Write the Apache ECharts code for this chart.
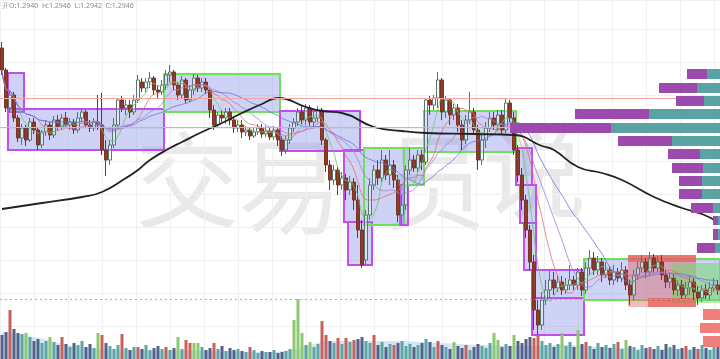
<!DOCTYPE html>
<html><head><meta charset="utf-8">
<script src="https://cdn.jsdelivr.net/npm/echarts@6/dist/echarts.min.js"></script>
<style>html,body{margin:0;padding:0;background:#fff}#c{width:720px;height:359px}</style>
</head><body><div id="c"></div>
<script>
// ---------- data ----------
const opens = [
1.3192,1.3170,1.3132,1.3145,1.3122,1.3102,1.3112,1.3100,1.3118,1.3110,
1.3095,1.3108,1.3115,1.3105,1.3120,1.3113,1.3122,1.3115,1.3118,1.3110,
1.3122,1.3128,1.3115,1.3112,1.3118,1.3115,1.3090,1.3080,1.3095,1.3115,
1.3140,1.3132,1.3135,1.3128,1.3140,1.3158,1.3152,1.3158,1.3162,1.3150,
1.3148,1.3155,1.3165,1.3168,1.3155,1.3145,1.3160,1.3140,1.3150,1.3162,
1.3152,1.3158,1.3150,1.3130,1.3115,1.3125,1.3122,1.3128,1.3120,1.3112,
1.3115,1.3108,1.3110,1.3104,1.3108,1.3112,1.3106,1.3109,1.3103,1.3110,
1.3100,1.3090,1.3100,1.3112,1.3118,1.3128,1.3120,1.3132,1.3118,1.3122,
1.3130,1.3100,1.3075,1.3060,1.3070,1.3055,1.3062,1.3050,1.3058,1.3040,
1.3010,1.2980,1.3025,1.3055,1.3070,1.3062,1.3080,1.3065,1.3075,1.3060,
1.3025,1.3035,1.3070,1.3080,1.3072,1.3085,1.3078,1.3140,1.3135,1.3142,
1.3160,1.3128,1.3140,1.3125,1.3132,1.3115,1.3100,1.3120,1.3128,1.3110,
1.3080,1.3100,1.3112,1.3122,1.3115,1.3125,1.3110,1.3137,1.3122,1.3090,
1.3065,1.3040,1.3010,1.2978,1.2930,1.2915,1.2940,1.2950,1.2960,1.2952,
1.2958,1.2950,1.2955,1.2960,1.2955,1.2968,1.2950,1.2972,1.2982,1.2970,
1.2978,1.2965,1.2970,1.2960,1.2968,1.2962,1.2970,1.2955,1.2945,1.2965,
1.2972,1.2978,1.2968,1.2982,1.2972,1.2978,1.2965,1.2958,1.2962,1.2950,
1.2955,1.2945,1.2952,1.2958,1.2948,1.2942,1.2950,1.2945,1.2952,1.2955];
const closes = [
1.3170,1.3132,1.3145,1.3122,1.3102,1.3112,1.3100,1.3118,1.3110,1.3095,
1.3108,1.3115,1.3105,1.3120,1.3113,1.3122,1.3115,1.3118,1.3110,1.3122,
1.3128,1.3115,1.3112,1.3118,1.3115,1.3090,1.3080,1.3095,1.3115,1.3140,
1.3132,1.3135,1.3128,1.3140,1.3160,1.3152,1.3158,1.3162,1.3150,1.3148,
1.3155,1.3165,1.3168,1.3155,1.3145,1.3160,1.3140,1.3150,1.3162,1.3152,
1.3158,1.3150,1.3130,1.3115,1.3125,1.3122,1.3128,1.3120,1.3112,1.3115,
1.3108,1.3110,1.3104,1.3108,1.3112,1.3106,1.3109,1.3103,1.3110,1.3100,
1.3090,1.3100,1.3112,1.3118,1.3128,1.3120,1.3132,1.3118,1.3122,1.3130,
1.3100,1.3075,1.3060,1.3070,1.3055,1.3062,1.3050,1.3058,1.3040,1.3010,
1.2975,1.3025,1.3055,1.3070,1.3062,1.3080,1.3065,1.3075,1.3060,1.3025,
1.3035,1.3070,1.3080,1.3072,1.3085,1.3078,1.3140,1.3135,1.3142,1.3160,
1.3128,1.3140,1.3125,1.3132,1.3115,1.3100,1.3120,1.3128,1.3110,1.3080,
1.3100,1.3112,1.3122,1.3115,1.3125,1.3110,1.3137,1.3122,1.3090,1.3065,
1.3040,1.3010,1.2978,1.2930,1.2915,1.2940,1.2950,1.2960,1.2952,1.2958,
1.2950,1.2955,1.2960,1.2955,1.2968,1.2950,1.2972,1.2982,1.2970,1.2978,
1.2965,1.2970,1.2960,1.2968,1.2962,1.2970,1.2955,1.2945,1.2965,1.2972,
1.2978,1.2968,1.2982,1.2972,1.2978,1.2965,1.2958,1.2962,1.2950,1.2955,
1.2945,1.2952,1.2958,1.2948,1.2942,1.2950,1.2945,1.2952,1.2955,1.2950];
const lows = [
1.3165,1.3128,1.3128,1.3118,1.3098,1.3095,1.3094,1.3098,1.3106,1.3090,
1.3092,1.3104,1.3100,1.3102,1.3110,1.3110,1.3112,1.3110,1.3106,1.3107,
1.3118,1.3112,1.3108,1.3109,1.3110,1.3085,1.3064,1.3075,1.3092,1.3112,
1.3128,1.3125,1.3122,1.3125,1.3137,1.3148,1.3148,1.3152,1.3145,1.3142,
1.3145,1.3150,1.3158,1.3150,1.3140,1.3142,1.3137,1.3138,1.3145,1.3148,
1.3148,1.3146,1.3122,1.3110,1.3112,1.3118,1.3116,1.3115,1.3107,1.3108,
1.3102,1.3104,1.3100,1.3102,1.3105,1.3102,1.3103,1.3100,1.3100,1.3094,
1.3084,1.3086,1.3096,1.3108,1.3114,1.3116,1.3115,1.3114,1.3112,1.3118,
1.3095,1.3068,1.3050,1.3055,1.3045,1.3050,1.3040,1.3045,1.3030,1.3002,
1.2972,1.2975,1.3020,1.3050,1.3055,1.3058,1.3060,1.3055,1.3052,1.3018,
1.3015,1.3030,1.3065,1.3068,1.3068,1.3070,1.3075,1.3125,1.3130,1.3132,
1.3120,1.3122,1.3115,1.3120,1.3108,1.3090,1.3096,1.3116,1.3105,1.3070,
1.3075,1.3092,1.3108,1.3110,1.3110,1.3105,1.3107,1.3118,1.3085,1.3058,
1.3030,1.3002,1.2970,1.2910,1.2905,1.2910,1.2935,1.2942,1.2945,1.2948,
1.2945,1.2946,1.2950,1.2950,1.2950,1.2944,1.2946,1.2965,1.2965,1.2965,
1.2958,1.2962,1.2955,1.2955,1.2958,1.2958,1.2950,1.2935,1.2940,1.2960,
1.2968,1.2962,1.2964,1.2968,1.2968,1.2960,1.2952,1.2952,1.2945,1.2944,
1.2940,1.2940,1.2945,1.2940,1.2935,1.2938,1.2940,1.2940,1.2948,1.2945];
const highs = [
1.3198,1.3172,1.3150,1.3148,1.3125,1.3116,1.3115,1.3122,1.3122,1.3112,
1.3110,1.3120,1.3118,1.3124,1.3125,1.3126,1.3128,1.3122,1.3121,1.3128,
1.3132,1.3130,1.3120,1.3122,1.3145,1.3147,1.3100,1.3100,1.3122,1.3142,
1.3144,1.3140,1.3140,1.3145,1.3165,1.3162,1.3162,1.3168,1.3164,1.3155,
1.3160,1.3170,1.3175,1.3170,1.3158,1.3164,1.3162,1.3155,1.3166,1.3165,
1.3162,1.3162,1.3152,1.3135,1.3128,1.3130,1.3132,1.3132,1.3124,1.3120,
1.3120,1.3114,1.3112,1.3112,1.3116,1.3116,1.3114,1.3112,1.3114,1.3112,
1.3104,1.3104,1.3116,1.3122,1.3132,1.3134,1.3136,1.3135,1.3128,1.3134,
1.3132,1.3102,1.3080,1.3075,1.3074,1.3068,1.3066,1.3064,1.3062,1.3055,
1.3020,1.3030,1.3062,1.3075,1.3080,1.3090,1.3085,1.3090,1.3080,1.3065,
1.3045,1.3075,1.3092,1.3085,1.3090,1.3090,1.3142,1.3144,1.3145,1.3168,
1.3162,1.3144,1.3142,1.3136,1.3136,1.3120,1.3125,1.3148,1.3132,1.3115,
1.3105,1.3118,1.3128,1.3128,1.3130,1.3130,1.3142,1.3140,1.3128,1.3095,
1.3072,1.3045,1.3015,1.2985,1.2940,1.2948,1.2960,1.2970,1.2968,1.2965,
1.2964,1.2962,1.2975,1.2964,1.2972,1.2972,1.2978,1.2990,1.2988,1.2984,
1.2982,1.2978,1.2974,1.2975,1.2972,1.2978,1.2974,1.2960,1.2970,1.2978,
1.2985,1.2982,1.2988,1.2986,1.2984,1.2985,1.2970,1.2968,1.2966,1.2960,
1.2960,1.2958,1.2964,1.2962,1.2954,1.2955,1.2956,1.2958,1.2962,1.2960];
const volumes = [
24,27,49,30,26,25,26,22,18,20, 16,18,22,17,14,22,15,12,16,14,
18,12,15,11,26,24,16,13,10,14, 25,11,9,12,12,10,14,9,11,13,
10,12,9,11,22,10,19,16,16,16, 12,9,11,16,10,13,8,11,9,10,
8,7,12,9,6,8,7,7,9,6, 7,8,10,39,60,26,14,17,12,15,
38,24,18,16,21,15,21,17,19,20, 22,18,16,24,14,17,12,15,14,16,
18,13,15,12,14,16,20,17,12,18, 14,12,10,17,13,11,14,9,12,15,
13,11,16,26,19,12,15,13,24,18, 16,20,22,21,23,18,14,16,12,15,
26,13,17,12,29,15,17,13,10,16, 12,14,11,15,17,10,19,13,12,9,
14,11,12,10,13,9,15,12,14,10, 11,13,9,12,10,14,11,9,13,12];
const redVolumeBars = [2,15,25,30,34,41,46,47,53,62,80,81,84,86,88,93,98,109,116,133,134,146,154,162,171,174];
const greenVolumeBars = [6,12,24,44,48,49,73,74,75,77,113,123,124,128,140,144,156];
const volumeAvg = [[0,27],[8,22],[20,12],[33,9],[53,8],[65,7],[72,9],[78,15],[82,18],[95,18],[110,16],[120,14],[132,13],[140,14],[150,12],[165,10],[179,10]];
const longMA = [[0,1.3031],[10,1.3037],[20,1.3043],[25,1.3048],[31,1.3062],[34,1.3070],[37,1.3080],[42,1.3092],[45,1.3098],[50,1.3108],[55,1.3117],[60,1.3127],[65,1.3136],[69,1.3142],[76,1.3133],[80,1.3129],[85,1.3127],[93,1.3113],[100,1.3109],[106,1.3107],[118,1.3106],[128,1.3105],[135,1.3094],[138,1.3090],[144,1.3073],[150,1.3067],[155,1.3060],[163,1.3043],[170,1.3032],[175,1.3026],[179,1.3018]];
// zones: [startIndex, endIndex, topPrice, bottomPrice, kind]
const zones = [
[2,5,1.3167,1.3128,0],[2,40,1.3131,1.3090,0],[41,69,1.3166,1.3128,1],[70,89,1.3129,1.3089,0],
[86,90,1.3090,1.3018,0],[87,92,1.3018,1.2975,0],[91,100,1.3092,1.3015,1],[100,101,1.3055,1.3015,0],
[101,105,1.3092,1.3055,1],[106,128,1.3129,1.3088,1],[129,132,1.3092,1.3055,0],[130,133,1.3055,1.3017,0],
[131,133,1.3017,1.2970,0],[133,145,1.2970,1.2942,0],[133,145,1.2942,1.2905,0],[146,179,1.2981,1.2940,1],
[157,173,1.2985,1.2933,2],[168,179,1.2977,1.2937,3],[157,173,1.2985,1.2978,4],[162,173,1.2942,1.2933,4]];
// volume profile rows: [topPrice, bottomPrice, sellVolume, buyVolume]
const profileRows = [
[1.3172,1.3161,20,13],[1.3158,1.3147,38,23],[1.3145,1.3134,28,16],[1.3132,1.3121,74,71],
[1.3118,1.3107,101,109],[1.3105,1.3094,54,48],[1.3092,1.3081,32,20],[1.3078,1.3067,31,17],
[1.3065,1.3054,23,18],[1.3052,1.3041,23,18],[1.3038,1.3027,22,7],[1.3025,1.3015,5,2],
[1.3012,1.3000,5,2],[1.2998,1.2987,18,5]];
const profileLowRows = [[1.2932,1.2920,17],[1.2918,1.2907,20],[1.2905,1.2893,17]];
const levelLines = [1.3142, 1.3113];
const lastPrice = 1.2941;
const headerText = '开O:1.2940  H:1.2946  L:1.2942  C:1.2946';
const watermark = ['交','易','员','说'];

// ---------- chart ----------
const cats = closes.map((_, i) => String(i));
const candles = closes.map((c, i) => [opens[i], c, lows[i], highs[i]]);
function sma(p) {
  return closes.map((_, i) => {
    const s = Math.max(0, i - p + 1); let t = 0;
    for (let k = s; k <= i; k++) t += closes[k];
    return +(t / (i - s + 1)).toFixed(5);
  });
}
const volData = volumes.map((v, i) => {
  let col = closes[i] >= opens[i] ? '#5ea6a2' : '#56618a';
  if (redVolumeBars.includes(i)) col = '#c9605a';
  if (greenVolumeBars.includes(i)) col = '#8cc870';
  return { value: v, itemStyle: { color: col } };
});
const zoneStyles = [
  { fill: 'rgba(125,140,228,0.38)', stroke: '#c04ef2', lineWidth: 2 },
  { fill: 'rgba(125,140,228,0.38)', stroke: '#6fe05a', lineWidth: 2 },
  { fill: 'rgba(222,95,95,0.42)' },
  { fill: 'rgba(110,215,100,0.5)' },
  { fill: 'rgba(232,92,92,0.72)' }
];
const hidden = { axisLine: { show: false }, axisTick: { show: false }, axisLabel: { show: false }, splitLine: { show: false } };
const chart = echarts.init(document.getElementById('c'), null, { renderer: 'canvas' });
chart.setOption({
  animation: false,
  backgroundColor: '#ffffff',
  grid: [
    { left: 0, right: 0, top: 0, bottom: 0 },
    { left: 0, right: 0, top: 299, bottom: 0 },
    { left: 0, right: 0, top: 0, bottom: 0 }
  ],
  xAxis: [
    Object.assign({ type: 'category', data: cats, gridIndex: 0, boundaryGap: true }, hidden),
    Object.assign({ type: 'value', gridIndex: 0, position: 'top', inverse: true, min: 0, max: 720 }, hidden),
    Object.assign({ type: 'category', data: cats, gridIndex: 1, boundaryGap: true }, hidden),
    Object.assign({}, hidden, { type: 'value', gridIndex: 2, min: 0, max: 720, interval: 34, splitLine: { show: true, lineStyle: { color: '#f0f0f0', width: 1 } } })
  ],
  yAxis: [
    Object.assign({ type: 'value', gridIndex: 0, min: 1.2881, max: 1.3240, scale: true }, hidden),
    Object.assign({ type: 'value', gridIndex: 1, min: 0, max: 60 }, hidden),
    Object.assign({}, hidden, { type: 'value', gridIndex: 2, min: 0, max: 359, interval: 33, splitLine: { show: true, lineStyle: { color: '#f0f0f0', width: 1 } } })
  ],
  graphic: watermark.map((ch, k) => ({
    type: 'text', z: 0, silent: true,
    left: [135, 238, 382, 482][k], top: [128, 134, 130, 118][k],
    style: { text: ch, fontSize: 104, fontFamily: 'Noto Sans CJK SC', fill: 'rgba(0,0,0,0.085)' }
  })).concat([{
    type: 'text', left: 2, top: 2, z: 10,
    style: { text: headerText, fontSize: 7, fontFamily: 'Noto Sans', fill: '#8a8a8a' }
  }]),
  series: [
    {
      type: 'custom', name: 'zones', xAxisIndex: 0, yAxisIndex: 0, z: 1, silent: true,
      data: zones, encode: { x: [0, 1], y: [2, 3] },
      renderItem: (params, api) => {
        const s = api.coord([api.value(0), api.value(2)]);
        const e = api.coord([api.value(1), api.value(3)]);
        const bw = api.size([1, 0])[0];
        return { type: 'rect', shape: { x: s[0] - bw / 2, y: s[1], width: e[0] - s[0] + bw, height: e[1] - s[1] },
          style: zoneStyles[api.value(4)] };
      }
    },
    {
      type: 'candlestick', name: 'price', xAxisIndex: 0, yAxisIndex: 0, z: 3, data: candles, barWidth: 3,
      itemStyle: { color: 'rgba(255,255,255,0.35)', color0: '#8e3b2c', borderColor: '#56786c', borderColor0: '#7c3326', borderWidth: 1 },
      markLine: {
        silent: true, symbol: 'none', precision: 5, label: { show: false },
        data: levelLines.map(v => ({ yAxis: v, lineStyle: { color: '#f3a5a5', width: 1, type: 'solid' } }))
          .concat([{ yAxis: lastPrice, lineStyle: { color: '#b0b0b0', width: 1, type: [2, 3] } }])
      }
    },
    { type: 'line', name: 'MA5', data: sma(5), xAxisIndex: 0, yAxisIndex: 0, symbol: 'none', z: 4, smooth: true, lineStyle: { color: '#6cc46a', width: 0.8 } },
    { type: 'line', name: 'MA10', data: sma(10), xAxisIndex: 0, yAxisIndex: 0, symbol: 'none', z: 4, smooth: true, lineStyle: { color: '#e86a6a', width: 0.8 } },
    { type: 'line', name: 'MA15', data: sma(15), xAxisIndex: 0, yAxisIndex: 0, symbol: 'none', z: 4, smooth: true, lineStyle: { color: '#a77bdc', width: 0.8 } },
    { type: 'line', name: 'MA25', data: sma(25), xAxisIndex: 0, yAxisIndex: 0, symbol: 'none', z: 4, smooth: true, lineStyle: { color: '#6473d8', width: 0.8 } },
    { type: 'line', name: 'longMA', data: longMA, xAxisIndex: 0, yAxisIndex: 0, symbol: 'none', z: 4, smooth: true, lineStyle: { color: '#222222', width: 1.8 } },
    {
      type: 'custom', name: 'profile', xAxisIndex: 1, yAxisIndex: 0, z: 5, silent: true, data: profileRows,
      renderItem: (params, api) => {
        const top = api.value(0), bot = api.value(1), sv = api.value(2), bv = api.value(3);
        const a = api.coord([0, top]), b = api.coord([bv, bot]), c = api.coord([bv + sv, top]);
        return { type: 'group', children: [
          { type: 'rect', shape: { x: b[0], y: a[1] + 1, width: a[0] - b[0], height: b[1] - a[1] - 1 }, style: { fill: '#5ba3a3' } },
          { type: 'rect', shape: { x: c[0], y: a[1] + 1, width: b[0] - c[0], height: b[1] - a[1] - 1 }, style: { fill: '#9c4aae' } }
        ] };
      }
    },
    {
      type: 'custom', name: 'profileLow', xAxisIndex: 1, yAxisIndex: 0, z: 5, silent: true, data: profileLowRows,
      renderItem: (params, api) => {
        const a = api.coord([0, api.value(0)]), b = api.coord([api.value(2), api.value(1)]);
        return { type: 'rect', shape: { x: b[0], y: a[1] + 1, width: a[0] - b[0], height: b[1] - a[1] - 1 }, style: { fill: '#ef7f7a' } };
      }
    },
    { type: 'line', name: 'volAvg', data: volumeAvg, xAxisIndex: 2, yAxisIndex: 1, symbol: 'none', smooth: true, z: 1,
      lineStyle: { width: 0 }, areaStyle: { color: 'rgba(150,195,238,0.6)' } },
    { type: 'bar', name: 'volume', data: volData, xAxisIndex: 2, yAxisIndex: 1, barWidth: 3, z: 2 }
  ]
});
</script></body></html>
